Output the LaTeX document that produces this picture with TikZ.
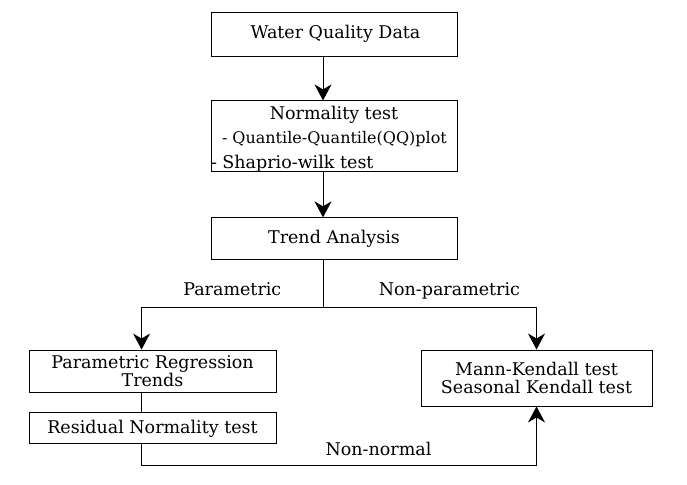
\documentclass[tikz,border=0pt]{standalone}
\usepackage{fontspec}
\setmainfont{DejaVu Serif}
\usetikzlibrary{arrows.meta}
\usetikzlibrary{calc,positioning}
\newcommand{\createlength}[2]{\newlength{#1}\setlength{#1}{#2}}
\tikzset{
  flowbox/.style={draw,line width=0.9pt,inner sep=0,minimum width=246pt,align=center},
  flowline/.style={line width=0.9pt},
  flowarrow/.style={flowline,-{Stealth[length=16pt,width=17pt,inset=5pt]}},
  flowlabel/.style={anchor=base},
}

\begin{document}
\begin{tikzpicture}[font=\fontsize{17.5}{17}\selectfont]
\createlength{\boxgap}{44pt}
\createlength{\stemin}{113pt}
\useasboundingbox (0,0) rectangle (687pt,-484pt);
\coordinate (spine) at (323pt,0pt);
%%%%%%%%%%%%%%%%%%%%%%%%%%%%
%%%%%%%%% Input. %%%%%%%%%%%
%%%%%%%%%%%%%%%%%%%%%%%%%%%%
\node[flowbox, minimum height=44pt] (data) at (334pt,-34pt) {\,Water Quality Data};
\node[flowbox, below=\boxgap of data, minimum height=71pt, align=left,
      font=\fontsize{17.5}{24.5}\selectfont] (normtest)
      {\rule{0pt}{18pt}\makebox[246pt]{Normality test}\\
       \makebox[246pt][l]{\hspace*{11pt}\fontsize{16}{24.5}\selectfont- Quantile-Quantile(QQ)plot}\\
       \makebox[246pt][l]{- Shaprio-wilk test}};
\draw[flowarrow] (data.south -| spine) -- (normtest.north -| spine);
%%%%%%%%%%%%%%%%%%%%%%%%%%%%
%%%%%%%%% Trend. %%%%%%%%%%%
%%%%%%%%%%%%%%%%%%%%%%%%%%%%
\node[flowbox, below=45pt of normtest, minimum height=42pt] (trend) {Trend Analysis};
\coordinate[below=47pt of trend.south -| spine] (split);
\draw[flowarrow] (normtest.south -| spine) -- (trend.north -| spine);
\draw[flowline] (trend.south -| spine) -- (split);
%%%%%%%%%%%%%%%%%%%%%%%%%%%%
%%%%%%%%% Branches. %%%%%%%%
%%%%%%%%%%%%%%%%%%%%%%%%%%%%
\node[flowbox, minimum width=247pt, minimum height=42pt, font=\fontsize{17.5}{15.5}\selectfont]
      (param) at (152.5pt,-371pt) {Parametric Regression\\Trends};
\node[flowbox, below=20pt of param, minimum width=247pt, minimum height=31pt] (resid) {Residual Normality test};
\node[flowbox, minimum width=231pt, minimum height=56pt, font=\fontsize{17.5}{17.5}\selectfont]
      (mann) at (536.5pt,-378pt) {Mann-Kendall test\\Seasonal Kendall test};
\coordinate (parin) at ([xshift=\stemin]param.north west);
\coordinate (resout) at ([xshift=\stemin]resid.south west);
\draw[flowarrow] (split) -| node[flowlabel,pos=0.25,yshift=12pt] {Parametric} (parin);
\draw[flowarrow] (split) -| node[flowlabel,pos=0.296,yshift=12pt] {Non-parametric} (mann);
\draw[flowline] (param.south -| parin) -- (resid.north -| parin);
\draw[flowarrow] (resout) -- ++(0,-21pt) -| node[flowlabel,pos=0.3,yshift=10pt] {Non-normal} (mann);
\end{tikzpicture}
\end{document}
